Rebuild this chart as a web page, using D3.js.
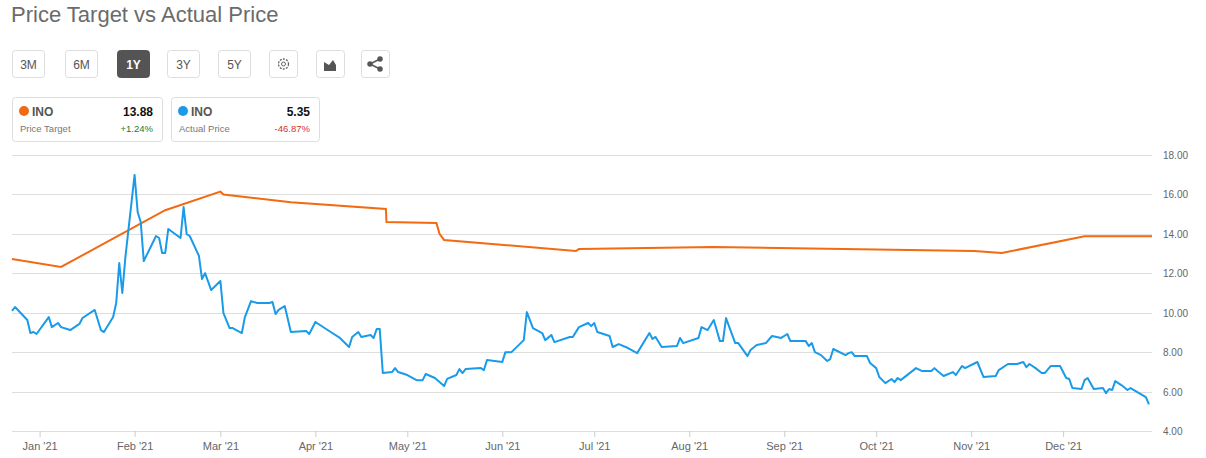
<!DOCTYPE html>
<html>
<head>
<meta charset="utf-8">
<script src="https://cdn.jsdelivr.net/npm/d3@7"></script>
<style>
  body { margin: 0; background: #fff; font-family: "Liberation Sans", Arial, sans-serif; }
</style>
</head>
<body>
<div id="chart"></div>
<script>
// day = days since Jan 1 2021
const targetDays = [-9, 7, 41, 59, 60, 82, 113, 113.2, 129.5, 130.5, 132, 175, 176, 220, 305, 314, 341, 363];
const targetVals = [12.72, 12.32, 15.2, 16.14, 16.0, 15.6, 15.26, 14.6, 14.55, 14.0, 13.69, 13.13, 13.23, 13.33, 13.13, 13.03, 13.88, 13.88];

const priceDays = [-9,-8,-4,-3,-2,-1,3,4,6,7,10,13,14,18,20,21,24,25,26,27,28,31,32,33,34,38,39,40,41,42,46,47,48,49,52,53,54,56,59,60,62,63,66,67,69,71,75,76,77,78,80,82,87,88,90,95,98,101,102,104,105,108,109,110,111,112,115,116,117,120,123,125,126,129,132,133,136,137,138,139,144,145,146,151,152,154,158,159,161,164,165,167,168,173,174,176,179,180,181,182,186,187,189,192,195,199,200,201,203,208,209,210,215,216,218,220,222,223,224,227,228,231,232,234,237,239,242,244,245,248,250,251,252,253,255,257,258,259,263,264,265,266,270,271,273,274,276,278,279,280,281,286,288,291,292,293,295,298,299,301,302,306,308,312,313,316,319,321,322,323,325,327,328,330,333,335,336,337,340,341,342,344,347,348,349,350,351,353,355,356,361,362];
const priceVals = [10.09,10.29,9.63,8.97,9.02,8.92,9.78,9.27,9.48,9.27,9.12,9.43,9.73,10.14,9.12,9.02,9.78,10.49,12.52,11.0,12.82,16.99,15.11,14.6,12.62,13.89,13.79,13.03,13.03,14.25,13.79,15.36,13.99,13.89,12.88,11.71,12.01,11.15,11.61,9.98,9.22,9.22,8.97,9.78,10.59,10.49,10.49,10.54,9.93,10.14,10.34,9.02,9.07,8.92,9.53,9.02,8.72,8.26,8.77,9.02,8.77,8.87,8.72,9.17,9.17,6.94,6.99,7.19,6.99,6.84,6.58,6.58,6.89,6.69,6.28,6.64,6.84,7.14,6.94,7.14,7.19,7.09,7.6,7.5,8.0,8.0,8.61,10.03,9.22,8.97,8.61,8.87,8.51,8.77,8.77,9.27,9.48,9.32,9.48,9.02,8.82,8.26,8.41,8.21,7.95,8.97,8.67,8.77,8.26,8.31,8.72,8.46,8.72,9.27,9.12,9.63,8.56,8.56,9.73,8.46,8.46,7.8,8.11,8.36,8.46,8.82,8.72,8.92,8.56,8.56,8.56,8.31,8.46,8.0,7.85,7.55,7.65,8.16,7.85,7.95,8.0,7.8,7.8,7.45,7.19,6.74,6.43,6.64,6.48,6.69,6.58,7.19,7.04,7.04,7.19,7.04,6.79,6.99,6.84,7.3,7.19,7.5,6.74,6.79,7.09,7.4,7.4,7.5,7.24,7.4,7.19,6.94,6.94,7.3,7.3,6.69,6.64,6.18,6.13,6.58,6.69,6.13,6.18,5.92,6.13,6.08,6.53,6.33,6.08,6.18,5.72,5.35];

const yTicks = [4, 6, 8, 10, 12, 14, 16, 18];
const ranges = ["3M", "6M", "1Y", "3Y", "5Y"];

const W = 1206, H = 458;
const orange = "#f26a12", blue = "#1a9be9";
const base = new Date(2021, 0, 1);
const toDate = d => new Date(base.getTime() + d * 864e5);

const svg = d3.select("#chart").append("svg").attr("width", W).attr("height", H);

svg.append("text").attr("x", 11).attr("y", 22).attr("font-size", 22).attr("fill", "#6b6b6b")
  .text("Price Target vs Actual Price");

// range buttons
const btnX = [12, 65, 117, 167, 218];
ranges.forEach((r, i) => {
  const on = r === "1Y";
  svg.append("rect").attr("x", btnX[i] + 0.5).attr("y", 50.5).attr("width", 32).attr("height", 27).attr("rx", 3)
    .attr("fill", on ? "#545454" : "#fff").attr("stroke", on ? "#545454" : "#ddd");
  svg.append("text").attr("x", btnX[i] + 16.5).attr("y", 68.5).attr("text-anchor", "middle")
    .attr("font-size", 12).attr("font-weight", on ? "bold" : "normal").attr("fill", on ? "#fff" : "#555").text(r);
});
[269, 316, 361].forEach(x => {
  svg.append("rect").attr("x", x + 0.5).attr("y", 50.5).attr("width", 28).attr("height", 27).attr("rx", 3)
    .attr("fill", "#fff").attr("stroke", "#ddd");
});
// gear
const g1 = svg.append("g").attr("transform", "translate(283.5,64)");
g1.append("circle").attr("r", 5).attr("fill", "none").attr("stroke", "#666").attr("stroke-width", 1.3).attr("stroke-dasharray", "2 1.2");
g1.append("circle").attr("r", 2).attr("fill", "none").attr("stroke", "#666");
// chart icon
svg.append("path").attr("d", "M324,71 L324,62 L329,65 L333,60 L336,65 L336,71 Z").attr("fill", "#555");
// share icon
const sh = svg.append("g").attr("fill", "#555").attr("stroke", "#555").attr("stroke-width", 1.5);
sh.append("line").attr("x1", 370).attr("y1", 64).attr("x2", 380).attr("y2", 59);
sh.append("line").attr("x1", 370).attr("y1", 64).attr("x2", 380).attr("y2", 69);
[[370, 64], [380, 59], [380, 69]].forEach(p => sh.append("circle").attr("cx", p[0]).attr("cy", p[1]).attr("r", 2));

// legend cards
const cards = [
  { x: 12, w: 150, col: orange, val: "13.88", sub: "Price Target", chg: "+1.24%", chgCol: "#1a7a3a" },
  { x: 171, w: 148, col: blue, val: "5.35", sub: "Actual Price", chg: "-46.87%", chgCol: "#d0302a" }
];
cards.forEach(c => {
  svg.append("rect").attr("x", c.x + 0.5).attr("y", 97.5).attr("width", c.w).attr("height", 44).attr("rx", 3)
    .attr("fill", "#fff").attr("stroke", "#ddd");
  svg.append("circle").attr("cx", c.x + 12).attr("cy", 111).attr("r", 5).attr("fill", c.col);
  svg.append("text").attr("x", c.x + 20).attr("y", 115.5).attr("font-size", 12).attr("font-weight", "bold").attr("fill", "#555").text("INO");
  svg.append("text").attr("x", c.x + c.w - 9).attr("y", 115.5).attr("text-anchor", "end").attr("font-size", 12).attr("font-weight", "bold").attr("fill", "#111").text(c.val);
  svg.append("text").attr("x", c.x + 8).attr("y", 132).attr("font-size", 9.5).attr("fill", "#777").text(c.sub);
  svg.append("text").attr("x", c.x + c.w - 9).attr("y", 132).attr("text-anchor", "end").attr("font-size", 9.5).attr("fill", c.chgCol).text(c.chg);
});

// scales
const x = d3.scaleTime().domain([new Date(2020, 11, 23), new Date(2021, 11, 30)]).range([12, 1152]);
const y = d3.scaleLinear().domain([4, 18]).range([431, 155]);

svg.append("g").selectAll("line").data(yTicks).join("line")
  .attr("x1", 12).attr("x2", 1152).attr("y1", d => Math.round(y(d)) + 0.5).attr("y2", d => Math.round(y(d)) + 0.5)
  .attr("stroke", "#dedede");
svg.append("g").selectAll("text").data(yTicks).join("text")
  .attr("x", 1163).attr("y", d => y(d) + 4).attr("font-size", 10).attr("fill", "#666").text(d => d.toFixed(2));

const xAxis = svg.append("g").attr("transform", "translate(0,431)")
  .call(d3.axisBottom(x).ticks(d3.timeMonth.every(1)).tickSize(6).tickSizeOuter(0).tickFormat(d3.timeFormat("%b '%y")));
xAxis.select(".domain").remove();
xAxis.selectAll("line").attr("stroke", "#ccc");
xAxis.selectAll("text").attr("font-size", 11).attr("fill", "#666").attr("dy", "0.9em")
  .attr("font-family", "Liberation Sans, Arial, sans-serif");

const line = d3.line().x(d => x(toDate(d[0]))).y(d => y(d[1]));
svg.append("path").datum(targetDays.map((d, i) => [d, targetVals[i]]))
  .attr("d", line).attr("fill", "none").attr("stroke", orange).attr("stroke-width", 2);
svg.append("path").datum(priceDays.map((d, i) => [d, priceVals[i]]))
  .attr("d", line).attr("fill", "none").attr("stroke", blue).attr("stroke-width", 2).attr("stroke-linejoin", "round");
</script>
</body>
</html>
